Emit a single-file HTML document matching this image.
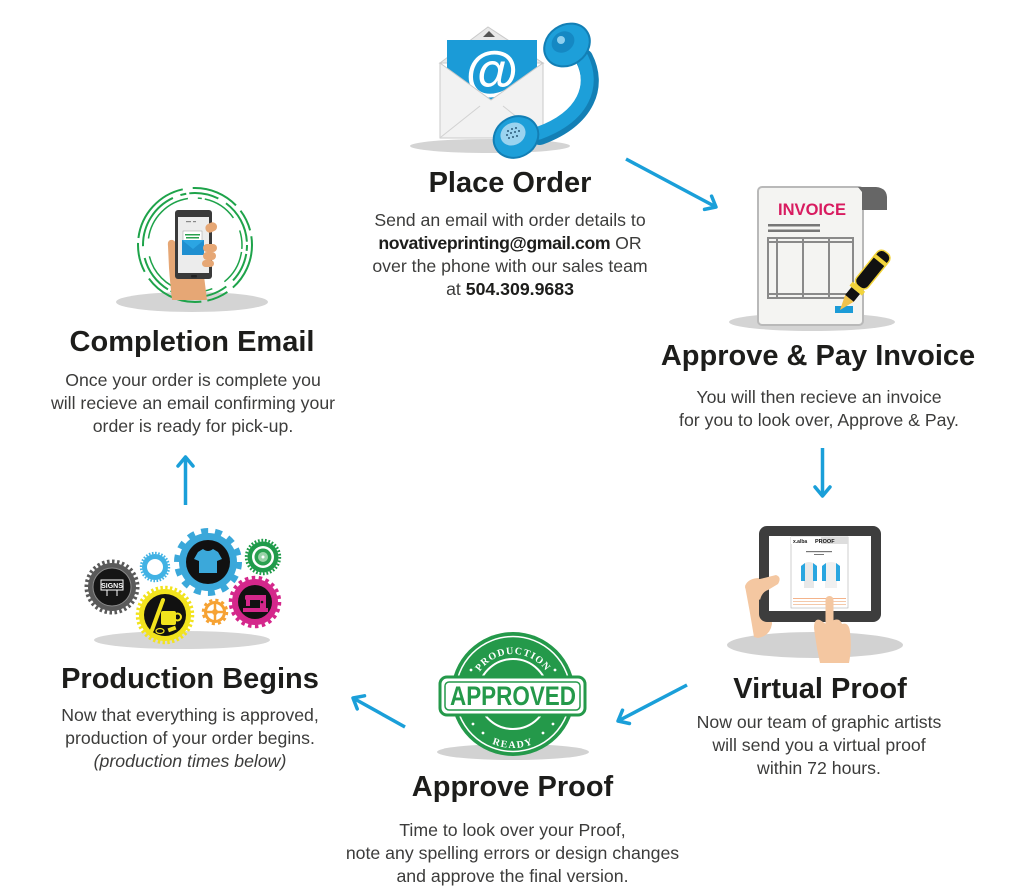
<!DOCTYPE html>
<html><head><meta charset="utf-8">
<style>
html,body{margin:0;padding:0;background:#fff;}
#c{position:relative;width:1024px;height:892px;overflow:hidden;background:#fff;}
#c svg{position:absolute;left:0;top:0;}
.t{position:absolute;font-family:"Liberation Sans",sans-serif;font-weight:bold;font-size:29px;line-height:29px;color:#1d1d1b;text-align:center;white-space:nowrap;width:400px;}
.b{position:absolute;font-family:"Liberation Sans",sans-serif;font-size:17.7px;line-height:23px;color:#3c3c3b;text-align:center;white-space:nowrap;width:400px;}
.b b{color:#1d1d1b;}
</style></head><body>
<div id="c">
<svg width="1024" height="892" viewBox="0 0 1024 892" xmlns="http://www.w3.org/2000/svg">
<defs>
<marker id="ah" viewBox="0 0 14 16" refX="12" refY="8" markerWidth="14" markerHeight="16" orient="auto" markerUnits="userSpaceOnUse" overflow="visible">
<path d="M3,0.5 L12,8 L3,15.5" fill="none" stroke="#1a9fd9" stroke-width="3.5" stroke-linecap="round" stroke-linejoin="round"/>
</marker>
<path id="arcTop" d="M473,694 A40,40 0 0,1 553,694"/>
<path id="arcBot" d="M459,694 A54,54 0 0,0 567,694"/>
</defs>

<!-- arrows -->
<g stroke="#1a9fd9" stroke-width="3.5" fill="none" marker-end="url(#ah)">
<line x1="626" y1="159" x2="716" y2="207"/>
<line x1="822.5" y1="448" x2="822.5" y2="496"/>
<line x1="687" y1="685" x2="618" y2="721"/>
<line x1="405" y1="727" x2="353" y2="698"/>
<line x1="185.5" y1="505" x2="185.5" y2="457"/>
</g>

<!-- ===== Place Order icon ===== -->
<ellipse cx="490" cy="146" rx="80" ry="7" fill="#d4d4d4"/>
<polygon points="440,63 488,27 543,63" fill="#e9e9e9" stroke="#c9c9c9" stroke-width="1"/>
<polygon points="483,37 489,31 495,37" fill="#555"/>
<rect x="447" y="40" width="90" height="62" fill="#1b9bd7"/>
<text x="492" y="89" text-anchor="middle" font-family="Liberation Sans,sans-serif" font-weight="bold" font-size="54" fill="#fff">@</text>
<polygon points="440,63 491,100 543,63 543,138 440,138" fill="#f2f2f2" stroke="#c9c9c9" stroke-width="1"/>
<line x1="441" y1="137" x2="480" y2="106" stroke="#d2d2d2" stroke-width="1"/>
<line x1="542" y1="137" x2="503" y2="106" stroke="#d2d2d2" stroke-width="1"/>
<!-- phone handset -->
<path d="M584,58 C598,85 588,118 540,136" stroke="#137fb5" stroke-width="18" fill="none" stroke-linecap="round"/>
<path d="M582,58 C595,85 585,116 539,133" stroke="#1d9fd9" stroke-width="13" fill="none" stroke-linecap="round"/>
<ellipse cx="567" cy="45" rx="24" ry="20" transform="rotate(-35 567 45)" fill="#1d9fd9" stroke="#137fb5" stroke-width="2"/>
<ellipse cx="563" cy="42" rx="12" ry="10" transform="rotate(-35 563 42)" fill="#1588c3"/>
<ellipse cx="561" cy="40" rx="4" ry="4" fill="#8fd0ef"/>
<ellipse cx="516" cy="137" rx="23" ry="20" transform="rotate(-30 516 137)" fill="#1d9fd9" stroke="#137fb5" stroke-width="2"/>
<ellipse cx="513" cy="134" rx="13" ry="11" transform="rotate(-30 513 134)" fill="#9ad3ef"/>
<g fill="#2a5a7a">
<circle cx="508" cy="131" r="1"/><circle cx="512" cy="129" r="1"/><circle cx="516" cy="128" r="1"/>
<circle cx="507" cy="135" r="1"/><circle cx="511" cy="133" r="1"/><circle cx="515" cy="132" r="1"/><circle cx="519" cy="131" r="1"/>
<circle cx="509" cy="138" r="1"/><circle cx="513" cy="137" r="1"/><circle cx="517" cy="136" r="1"/>
</g>

<!-- ===== Invoice icon ===== -->
<ellipse cx="812" cy="322" rx="83" ry="9" fill="#d4d4d4"/>
<rect x="758" y="187" width="105" height="138" rx="4" fill="#f4f4f2" stroke="#b9b9b9" stroke-width="2"/>
<path d="M858,187 L876,187 Q888,188 887,200 L887,210 L862,210 L862,192 Z" fill="#666"/>
<text x="812" y="215" text-anchor="middle" font-family="Liberation Sans,sans-serif" font-weight="bold" font-size="17" fill="#d81b60" textLength="68" lengthAdjust="spacingAndGlyphs">INVOICE</text>
<rect x="768" y="224" width="52" height="2.5" fill="#777"/>
<rect x="768" y="229.5" width="52" height="2.5" fill="#777"/>
<g stroke="#8a8a8a" stroke-width="2" fill="none">
<rect x="768" y="238" width="85" height="60"/>
<line x1="768" y1="242" x2="853" y2="242"/>
<line x1="768" y1="294" x2="853" y2="294"/>
<line x1="777" y1="238" x2="777" y2="298"/>
<line x1="803" y1="238" x2="803" y2="298"/>
<line x1="829" y1="238" x2="829" y2="298"/>
</g>
<rect x="835" y="306" width="18" height="7" fill="#1b9bd7"/>
<g transform="translate(840,310) rotate(-51)">
<polygon points="0,0 15,-5.5 15,5.5" fill="#f0c24a"/>
<rect x="15" y="-5.5" width="10" height="11" fill="#111"/>
<rect x="25" y="-8" width="5" height="16" fill="#f2d43a"/>
<rect x="30" y="-7.5" width="44" height="15" rx="6" fill="#111" stroke="#f2d43a" stroke-width="1.5"/>
<rect x="62" y="-8" width="4" height="16" fill="#f2d43a"/>
</g>

<!-- ===== Tablet icon ===== -->
<ellipse cx="815" cy="645" rx="88" ry="13" fill="#d2d2d2"/>
<path d="M745,586 Q748,578 760,578 L776,574 Q781,576 778,583 L770,589 L772,624 Q770,636 758,638 L754,637 Q750,612 745,586 Z" fill="#f4c7a1"/>
<rect x="759" y="526" width="122" height="96" rx="8" fill="#3d3d3d"/>
<rect x="769" y="536" width="102" height="75" fill="#fff"/>
<path d="M745,588 Q748,579 760,579 L776,575 Q782,577 778,584 L768,590 Q762,592 760,600" fill="#f4c7a1"/>
<rect x="791" y="537" width="57" height="71" fill="#fff" stroke="#b0b0b0" stroke-width="0.6"/>
<rect x="791" y="537" width="57" height="7" fill="#ddd"/>
<rect x="791" y="537" width="30" height="7" fill="#fff"/>
<text x="793" y="543" font-family="Liberation Sans,sans-serif" font-size="5" font-weight="bold" fill="#222">x.alba</text>
<text x="815" y="543" font-family="Liberation Sans,sans-serif" font-size="5.5" font-weight="bold" fill="#111">PROOF</text>
<rect x="806" y="551" width="26" height="1.2" fill="#777"/>
<rect x="814" y="554" width="10" height="1" fill="#777"/>
<path d="M805,563 Q809,561 813,563 L817,566 L817,581 L814,581 L814,588 L804,588 L804,581 L801,581 L801,566 Z" fill="#e8e8e8"/>
<path d="M805,563 L801,566 L801,581 L805,581 Z M813,563 L817,566 L817,581 L813,581 Z" fill="#29a6e0"/>
<path d="M826,563 Q831,561 836,563 L840,566 L840,581 L837,581 L837,588 L825,588 L825,581 L822,581 L822,566 Z" fill="#f0f0f0"/>
<path d="M826,563 L822,566 L822,581 L826,581 Z M836,563 L840,566 L840,581 L836,581 Z" fill="#29a6e0"/>
<rect x="793" y="598" width="53" height="1" fill="#f4b38a"/>
<rect x="793" y="601" width="53" height="1" fill="#f4c9aa"/>
<rect x="793" y="604" width="53" height="1" fill="#f4c9aa"/>
<rect x="825.5" y="596" width="8" height="36" rx="4" fill="#f4c7a1"/>
<path d="M814,628 Q814,618 820,620 L826,624 L834,620 Q840,618 842,624 Q849,622 850,632 Q852,648 849,663 L820,663 Q816,645 814,628 Z" fill="#f4c7a1"/>

<!-- ===== Approved stamp ===== -->
<ellipse cx="513" cy="752" rx="76" ry="8" fill="#d2d2d2"/>
<circle cx="513" cy="694" r="62" fill="#24994a"/>
<circle cx="513" cy="694" r="57.5" fill="none" stroke="#fff" stroke-width="1.5"/>
<circle cx="513" cy="694" r="35" fill="none" stroke="#fff" stroke-width="2"/>
<text font-family="Liberation Serif,serif" font-weight="bold" font-size="10" fill="#fff" letter-spacing="1"><textPath href="#arcTop" startOffset="50%" text-anchor="middle">PRODUCTION</textPath></text>
<text font-family="Liberation Serif,serif" font-weight="bold" font-size="10" fill="#fff" letter-spacing="1.5"><textPath href="#arcBot" startOffset="50%" text-anchor="middle">READY</textPath></text>
<g fill="#fff">
<circle cx="471" cy="670" r="1.4"/><circle cx="555" cy="670" r="1.4"/>
<circle cx="466" cy="682" r="1.4"/><circle cx="560" cy="682" r="1.4"/>
<circle cx="466" cy="712" r="1.4"/><circle cx="560" cy="712" r="1.4"/>
<circle cx="473" cy="724" r="1.4"/><circle cx="553" cy="724" r="1.4"/>
<circle cx="483" cy="733" r="1.4"/><circle cx="543" cy="733" r="1.4"/>
</g>
<rect x="440" y="677" width="145" height="38" rx="7" fill="#fff" stroke="#24994a" stroke-width="3"/>
<rect x="445" y="682" width="135" height="28" rx="4" fill="none" stroke="#24994a" stroke-width="1.5"/>
<text x="513" y="705" text-anchor="middle" font-family="Liberation Sans,sans-serif" font-weight="bold" font-size="27" fill="#24994a" textLength="126" lengthAdjust="spacingAndGlyphs">APPROVED</text>

<!-- ===== Gears ===== -->
<ellipse cx="182" cy="640" rx="88" ry="9" fill="#d6d6d6"/>
<!-- signs gear -->
<circle cx="112" cy="587" r="25.5" fill="none" stroke="#5a5a5a" stroke-width="4" stroke-dasharray="2.5 2.5"/>
<circle cx="112" cy="587" r="24" fill="#5a5a5a"/>
<circle cx="112" cy="587" r="19" fill="#151515" stroke="#8a8a8a" stroke-width="1"/>
<rect x="101" y="580" width="22" height="10" fill="#151515" stroke="#fff" stroke-width="1"/>
<text x="112" y="588" text-anchor="middle" font-family="Liberation Sans,sans-serif" font-weight="bold" font-size="7" fill="#fff">SIGNS</text>
<line x1="107" y1="590" x2="107" y2="596" stroke="#fff" stroke-width="1"/>
<line x1="117" y1="590" x2="117" y2="596" stroke="#fff" stroke-width="1"/>
<!-- light blue ring -->
<circle cx="155" cy="567" r="14" fill="none" stroke="#41b2e4" stroke-width="2.4" stroke-dasharray="1.57 1.57"/>
<circle cx="155" cy="567" r="13" fill="#41b2e4"/>
<circle cx="155" cy="567" r="8" fill="#fff"/>
<!-- blue big gear -->
<circle cx="208" cy="562" r="31" fill="none" stroke="#3ba8da" stroke-width="6" stroke-dasharray="7 6.9"/>
<circle cx="208" cy="562" r="29" fill="#3ba8da"/>
<circle cx="208" cy="562" r="22" fill="#111"/>
<path d="M198,552 L203,549 Q208,553 213,549 L218,552 L222,559 L217,561 L217,573 L199,573 L199,561 L194,559 Z" fill="#3ba8da"/>
<!-- green gear -->
<circle cx="263" cy="557" r="16.8" fill="none" stroke="#1f9b4a" stroke-width="2.8" stroke-dasharray="1.76 1.76"/>
<circle cx="263" cy="557" r="15.5" fill="#1f9b4a"/>
<circle cx="263" cy="557" r="11" fill="#fff"/>
<circle cx="263" cy="557" r="8.5" fill="#2aa04f"/>
<circle cx="263" cy="557" r="5" fill="#9bd3a8"/>
<circle cx="263" cy="557" r="1.5" fill="#fff"/>
<!-- yellow gear -->
<circle cx="165" cy="615" r="27.5" fill="none" stroke="#f2e31d" stroke-width="3.5" stroke-dasharray="2.4 2.4"/>
<circle cx="165" cy="615" r="26" fill="#f2e31d"/>
<circle cx="165" cy="615" r="21" fill="#111"/>
<line x1="152" y1="630" x2="163" y2="600" stroke="#f2e31d" stroke-width="4" stroke-linecap="round"/>
<rect x="161" y="611" width="15" height="14" rx="2" fill="#f2e31d"/>
<circle cx="177.5" cy="617" r="3.5" fill="none" stroke="#f2e31d" stroke-width="2"/>
<ellipse cx="160" cy="631" rx="4" ry="2.5" fill="none" stroke="#f2e31d" stroke-width="1.2"/>
<rect x="168" y="627" width="8" height="4" fill="#f2e31d" transform="rotate(-20 172 629)"/>
<!-- orange gear -->
<circle cx="215" cy="612" r="12" fill="none" stroke="#f6a233" stroke-width="2.5" stroke-dasharray="3.14 3.14"/>
<circle cx="215" cy="612" r="11" fill="#f6a233"/>
<circle cx="215" cy="612" r="8" fill="#fff"/>
<line x1="207" y1="612" x2="223" y2="612" stroke="#f6a233" stroke-width="2.5"/>
<line x1="215" y1="604" x2="215" y2="620" stroke="#f6a233" stroke-width="2.5"/>
<circle cx="215" cy="612" r="3" fill="#f6a233"/>
<!-- magenta gear -->
<circle cx="255" cy="602" r="24.5" fill="none" stroke="#d4278b" stroke-width="3.5" stroke-dasharray="3.5 3.5"/>
<circle cx="255" cy="602" r="23" fill="#d4278b"/>
<circle cx="255" cy="602" r="17" fill="#111"/>
<g fill="#d4278b">
<rect x="245" y="595" width="21" height="5" rx="1.5"/>
<rect x="260" y="595" width="6" height="15"/>
<rect x="243" y="608" width="25" height="4"/>
<rect x="246" y="599" width="4" height="7"/>
</g>
<circle cx="262" cy="602" r="1.3" fill="#111"/>

<!-- ===== Completion Email icon ===== -->
<ellipse cx="192" cy="302" rx="76" ry="10" fill="#d4d4d4"/>
<g fill="none" stroke="#1ea34a">
<circle cx="195" cy="245" r="57" stroke-width="2" stroke-dasharray="48 7 22 6 60 8 30 5 70 10"/>
<circle cx="195" cy="245" r="52" stroke-width="2" stroke-dasharray="6 3 30 9 45 6 8 3 40 12 60 8"/>
<circle cx="195" cy="245" r="47" stroke-width="1.5" stroke-dasharray="4 3 35 14 22 8 50 18 60 10"/>
</g>
<path d="M168,246 Q167,239 173,240 L178,244 L178,272 L204,276 L207,300 L172,300 Q170,282 169,268 Z" fill="#e6a775"/>
<rect x="175" y="210" width="37" height="69" rx="3" fill="#3a3a3a"/>
<rect x="178" y="217" width="31" height="56" fill="#ececec"/>
<rect x="183" y="231" width="19" height="13" fill="#fff" stroke="#9a9a9a" stroke-width="0.5"/>
<rect x="185" y="234" width="15" height="1.5" fill="#2aa04f"/>
<rect x="186" y="237" width="13" height="1.5" fill="#2aa04f"/>
<path d="M182,240 L204,240 L204,255 L182,255 Z" fill="#1f8fd0"/>
<path d="M182,240 L193,249 L204,240" fill="#2ba5e3"/>
<rect x="191" y="275" width="6" height="2.5" rx="1" fill="#222"/>
<rect x="186" y="221" width="5" height="1.2" fill="#888"/>
<rect x="193" y="221" width="3" height="1.2" fill="#888"/>
<g fill="#e6a775">
<rect x="205" y="223" width="12" height="9" rx="4.5" transform="rotate(-25 211 227)"/>
<rect x="203" y="244" width="14" height="8" rx="4"/>
<rect x="203" y="252" width="13" height="8" rx="4"/>
<rect x="202" y="260" width="12" height="7" rx="3.5"/>
</g>
</svg>

<!-- titles -->
<div class="t" style="left:310px;top:168.5px;">Place Order</div>
<div class="b" style="left:310px;top:209px;">Send an email with order details to<br><b style="letter-spacing:-0.4px">novativeprinting@gmail.com</b> OR<br>over the phone with our sales team<br>at <b>504.309.9683</b></div>

<div class="t" style="left:618px;top:342px;">Approve &amp; Pay Invoice</div>
<div class="b" style="left:619px;top:385.7px;">You will then recieve an invoice<br>for you to look over, Approve &amp; Pay.</div>

<div class="t" style="left:620px;top:675px;">Virtual Proof</div>
<div class="b" style="left:619px;top:710.7px;">Now our team of graphic artists<br>will send you a virtual proof<br>within 72 hours.</div>

<div class="t" style="left:312.5px;top:773px;">Approve Proof</div>
<div class="b" style="left:312.5px;top:819px;">Time to look over your Proof,<br>note any spelling errors or design changes<br>and approve the final version.</div>

<div class="t" style="left:-10px;top:664.5px;">Production Begins</div>
<div class="b" style="left:-10px;top:704px;">Now that everything is approved,<br>production of your order begins.<br><i>(production times below)</i></div>

<div class="t" style="left:-8px;top:328px;">Completion Email</div>
<div class="b" style="left:-7px;top:369px;">Once your order is complete you<br>will recieve an email confirming your<br>order is ready for pick-up.</div>
</div>
</body></html>
